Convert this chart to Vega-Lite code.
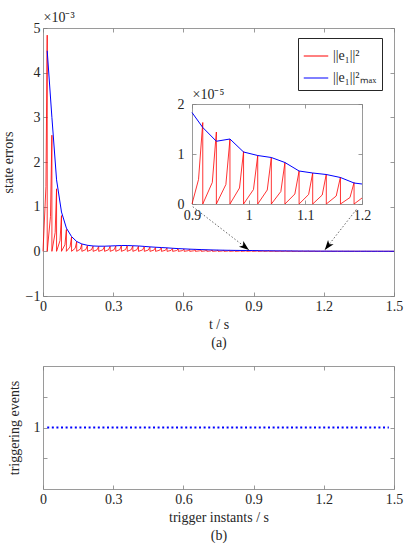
{
  "$schema": "https://vega.github.io/schema/vega-lite/v6.json",
  "padding": {"left": 1, "top": 10, "right": 5, "bottom": 2},
  "config": {
    "font": "Liberation Serif",
    "view": {"stroke": null},
    "axis": {
      "grid": false,
      "domainColor": "#808080",
      "domainWidth": 0.8,
      "tickColor": "#808080",
      "tickWidth": 0.8,
      "tickSize": -4,
      "labelFont": "Liberation Serif",
      "titleFont": "Liberation Serif",
      "labelColor": "#262626",
      "titleColor": "#262626",
      "labelFontSize": 14,
      "titleFontSize": 14,
      "titleFontWeight": "normal",
      "labelPadding": 7,
      "labelFlush": false,
      "labelOverlap": false
    },
    "legend": {"labelFont": "Liberation Serif"}
  },
  "datasets": {
    "red": [
      {"t":0,"v":0},{"t":0.0126,"v":1.452},{"t":0.018,"v":4.84},
      {"t":0.018,"v":0},{"t":0.032,"v":0.78},{"t":0.038,"v":2.6},
      {"t":0.038,"v":0},{"t":0.052,"v":0.42},{"t":0.058,"v":1.4},
      {"t":0.058,"v":0},{"t":0.0727,"v":0.24},{"t":0.079,"v":0.8},
      {"t":0.079,"v":0},{"t":0.0937,"v":0.147},{"t":0.1,"v":0.49},
      {"t":0.1,"v":0},{"t":0.1154,"v":0.096},{"t":0.122,"v":0.32},
      {"t":0.122,"v":0},{"t":0.1374,"v":0.066},{"t":0.144,"v":0.22},
      {"t":0.144,"v":0},{"t":0.1594,"v":0.048},{"t":0.166,"v":0.16},
      {"t":0.166,"v":0},{"t":0.1828,"v":0.039},{"t":0.19,"v":0.13},
      {"t":0.19,"v":0},{"t":0.2068,"v":0.0345},{"t":0.214,"v":0.115},
      {"t":0.214,"v":0},{"t":0.2308,"v":0.033},{"t":0.238,"v":0.11},
      {"t":0.238,"v":0},{"t":0.2555,"v":0.033},{"t":0.263,"v":0.11},
      {"t":0.263,"v":0},{"t":0.2798,"v":0.0345},{"t":0.287,"v":0.115},
      {"t":0.287,"v":0},{"t":0.3038,"v":0.036},{"t":0.311,"v":0.12},
      {"t":0.311,"v":0},{"t":0.3278,"v":0.0375},{"t":0.335,"v":0.125},
      {"t":0.335,"v":0},{"t":0.3525,"v":0.0375},{"t":0.36,"v":0.125},
      {"t":0.36,"v":0},{"t":0.3768,"v":0.036},{"t":0.384,"v":0.12},
      {"t":0.384,"v":0},{"t":0.4008,"v":0.0345},{"t":0.408,"v":0.115},
      {"t":0.408,"v":0},{"t":0.4255,"v":0.0315},{"t":0.433,"v":0.105},
      {"t":0.433,"v":0},{"t":0.4498,"v":0.0285},{"t":0.457,"v":0.095},
      {"t":0.457,"v":0},{"t":0.4738,"v":0.0264},{"t":0.481,"v":0.088},
      {"t":0.481,"v":0},{"t":0.4985,"v":0.0246},{"t":0.506,"v":0.082},
      {"t":0.506,"v":0},{"t":0.5228,"v":0.0225},{"t":0.53,"v":0.075},
      {"t":0.53,"v":0},{"t":0.5468,"v":0.0198},{"t":0.554,"v":0.066},
      {"t":0.554,"v":0},{"t":0.5708,"v":0.0174},{"t":0.578,"v":0.058},
      {"t":0.578,"v":0},{"t":0.5955,"v":0.0156},{"t":0.603,"v":0.052},
      {"t":0.603,"v":0},{"t":0.6198,"v":0.0141},{"t":0.627,"v":0.047},
      {"t":0.627,"v":0},{"t":0.6438,"v":0.0126},{"t":0.651,"v":0.042},
      {"t":0.651,"v":0},{"t":0.6685,"v":0.0111},{"t":0.676,"v":0.037},
      {"t":0.676,"v":0},{"t":0.6928,"v":0.0099},{"t":0.7,"v":0.033},
      {"t":0.7,"v":0},{"t":0.7168,"v":0.0087},{"t":0.724,"v":0.029},
      {"t":0.724,"v":0},{"t":0.7408,"v":0.0078},{"t":0.748,"v":0.026},
      {"t":0.748,"v":0},{"t":0.7655,"v":0.0072},{"t":0.773,"v":0.024},
      {"t":0.773,"v":0},{"t":0.7898,"v":0.0066},{"t":0.797,"v":0.022},
      {"t":0.797,"v":0},{"t":0.8138,"v":0.006},{"t":0.821,"v":0.02},
      {"t":0.821,"v":0},{"t":0.8385,"v":0.0057},{"t":0.846,"v":0.019},
      {"t":0.846,"v":0},{"t":0.8628,"v":0.0054},{"t":0.87,"v":0.018},
      {"t":0.87,"v":0},{"t":0.8868,"v":0.0051},{"t":0.894,"v":0.017},
      {"t":0.894,"v":0},{"t":0.9115,"v":0.0049},{"t":0.919,"v":0.0163},
      {"t":0.919,"v":0},{"t":0.9358,"v":0.0043},{"t":0.943,"v":0.0144},
      {"t":0.943,"v":0},{"t":0.9598,"v":0.0039},{"t":0.967,"v":0.013},
      {"t":0.967,"v":0},{"t":0.9838,"v":0.0032},{"t":0.991,"v":0.0105},
      {"t":0.991,"v":0},{"t":1.0085,"v":0.0029},{"t":1.016,"v":0.0097},
      {"t":1.016,"v":0},{"t":1.0328,"v":0.0028},{"t":1.04,"v":0.0093},
      {"t":1.04,"v":0},{"t":1.0568,"v":0.0025},{"t":1.064,"v":0.0083},
      {"t":1.064,"v":0},{"t":1.0815,"v":0.002},{"t":1.089,"v":0.0066},
      {"t":1.089,"v":0},{"t":1.1058,"v":0.0019},{"t":1.113,"v":0.0062},
      {"t":1.113,"v":0},{"t":1.1298,"v":0.0018},{"t":1.137,"v":0.006},
      {"t":1.137,"v":0},{"t":1.1545,"v":0.0016},{"t":1.162,"v":0.0054},
      {"t":1.162,"v":0},{"t":1.1788,"v":0.0013},{"t":1.186,"v":0.0043},
      {"t":1.186,"v":0},{"t":1.2028,"v":0.0012},{"t":1.21,"v":0.004},
      {"t":1.21,"v":0},{"t":1.2275,"v":0.0011},{"t":1.235,"v":0.0037},
      {"t":1.235,"v":0},{"t":1.2518,"v":0.00105},{"t":1.259,"v":0.0035},
      {"t":1.259,"v":0},{"t":1.2758,"v":0.001},{"t":1.283,"v":0.0033},
      {"t":1.283,"v":0},{"t":1.3005,"v":0.0009},{"t":1.308,"v":0.0031},
      {"t":1.308,"v":0},{"t":1.3248,"v":0.0009},{"t":1.332,"v":0.0029},
      {"t":1.332,"v":0},{"t":1.3488,"v":0.0008},{"t":1.356,"v":0.0027},
      {"t":1.356,"v":0},{"t":1.3735,"v":0.0008},{"t":1.381,"v":0.0026},
      {"t":1.381,"v":0},{"t":1.3978,"v":0.0007},{"t":1.405,"v":0.0024},
      {"t":1.405,"v":0},{"t":1.4218,"v":0.0007},{"t":1.429,"v":0.0023},
      {"t":1.429,"v":0},{"t":1.4465,"v":0.0006},{"t":1.454,"v":0.0021},
      {"t":1.454,"v":0},{"t":1.4708,"v":0.0006},{"t":1.478,"v":0.002},
      {"t":1.478,"v":0},{"t":1.495,"v":0.0006},{"t":1.5,"v":0.0009}
    ],
    "blue": [
      {"t":0.018,"v":4.49},{"t":0.038,"v":3.0},{"t":0.058,"v":1.6},{"t":0.079,"v":0.88},
      {"t":0.1,"v":0.52},{"t":0.122,"v":0.33},{"t":0.144,"v":0.22},{"t":0.166,"v":0.165},
      {"t":0.19,"v":0.135},{"t":0.214,"v":0.12},{"t":0.238,"v":0.115},{"t":0.263,"v":0.115},
      {"t":0.287,"v":0.12},{"t":0.311,"v":0.125},{"t":0.335,"v":0.13},{"t":0.36,"v":0.13},
      {"t":0.384,"v":0.125},{"t":0.408,"v":0.12},{"t":0.433,"v":0.11},{"t":0.457,"v":0.1},
      {"t":0.481,"v":0.092},{"t":0.506,"v":0.085},{"t":0.53,"v":0.078},{"t":0.554,"v":0.069},
      {"t":0.578,"v":0.061},{"t":0.603,"v":0.055},{"t":0.627,"v":0.049},{"t":0.651,"v":0.044},
      {"t":0.676,"v":0.039},{"t":0.7,"v":0.035},{"t":0.724,"v":0.031},{"t":0.748,"v":0.028},
      {"t":0.773,"v":0.025},{"t":0.797,"v":0.023},{"t":0.821,"v":0.021},{"t":0.846,"v":0.0198},
      {"t":0.87,"v":0.019},{"t":0.894,"v":0.0183},{"t":0.919,"v":0.0153},{"t":0.943,"v":0.01255},
      {"t":0.967,"v":0.013},{"t":0.991,"v":0.0104},{"t":1.016,"v":0.0097},{"t":1.04,"v":0.0093},
      {"t":1.064,"v":0.0083},{"t":1.089,"v":0.0066},{"t":1.113,"v":0.0062},{"t":1.137,"v":0.0059},
      {"t":1.162,"v":0.0053},{"t":1.186,"v":0.0042},{"t":1.21,"v":0.004},{"t":1.235,"v":0.0037},
      {"t":1.259,"v":0.0035},{"t":1.283,"v":0.0033},{"t":1.308,"v":0.0031},{"t":1.332,"v":0.0029},
      {"t":1.356,"v":0.0027},{"t":1.381,"v":0.0026},{"t":1.405,"v":0.0024},{"t":1.429,"v":0.0023},
      {"t":1.454,"v":0.0021},{"t":1.478,"v":0.002},{"t":1.5,"v":0.0019}
    ],
    "trig": [
      {"t":0.018,"e":1},{"t":0.038,"e":1},{"t":0.058,"e":1},{"t":0.079,"e":1},{"t":0.1,"e":1},
      {"t":0.122,"e":1},{"t":0.144,"e":1},{"t":0.166,"e":1},{"t":0.19,"e":1},{"t":0.214,"e":1},
      {"t":0.238,"e":1},{"t":0.263,"e":1},{"t":0.287,"e":1},{"t":0.311,"e":1},{"t":0.335,"e":1},
      {"t":0.36,"e":1},{"t":0.384,"e":1},{"t":0.408,"e":1},{"t":0.433,"e":1},{"t":0.457,"e":1},
      {"t":0.481,"e":1},{"t":0.506,"e":1},{"t":0.53,"e":1},{"t":0.554,"e":1},{"t":0.578,"e":1},
      {"t":0.603,"e":1},{"t":0.627,"e":1},{"t":0.651,"e":1},{"t":0.676,"e":1},{"t":0.7,"e":1},
      {"t":0.724,"e":1},{"t":0.748,"e":1},{"t":0.773,"e":1},{"t":0.797,"e":1},{"t":0.821,"e":1},
      {"t":0.846,"e":1},{"t":0.87,"e":1},{"t":0.894,"e":1},{"t":0.919,"e":1},{"t":0.943,"e":1},
      {"t":0.967,"e":1},{"t":0.991,"e":1},{"t":1.016,"e":1},{"t":1.04,"e":1},{"t":1.064,"e":1},
      {"t":1.089,"e":1},{"t":1.113,"e":1},{"t":1.137,"e":1},{"t":1.162,"e":1},{"t":1.186,"e":1},
      {"t":1.21,"e":1},{"t":1.235,"e":1},{"t":1.259,"e":1},{"t":1.283,"e":1},{"t":1.308,"e":1},
      {"t":1.332,"e":1},{"t":1.356,"e":1},{"t":1.381,"e":1},{"t":1.405,"e":1},{"t":1.429,"e":1},
      {"t":1.454,"e":1},{"t":1.478,"e":1}
    ],
    "arrows": [
      {"id":"a","t":0.64,"v":1.0,"t2":0.88,"v2":0.03},
      {"id":"b","t":1.339,"v":0.935,"t2":1.204,"v2":0.03}
    ]
  },
  "bounds": "flush",
  "spacing": 70,
  "vconcat": [
    {
      "width": 351,
      "height": 268,
      "resolve": {"scale": {"x": "independent", "y": "independent"}},
      "layer": [
        {
          "data": {"name": "red"},
          "mark": {"type": "line", "strokeWidth": 0.8},
          "encoding": {
            "x": {"field": "t", "type": "quantitative",
              "scale": {"domain": [0, 1.5], "nice": false},
              "axis": {"orient": "bottom", "values": [0, 0.3, 0.6, 0.9, 1.2, 1.5], "format": ".1~f",
                "title": ["t / s", "(a)"], "titleLineHeight": 18, "titlePadding": 4}},
            "y": {"field": "v", "type": "quantitative",
              "scale": {"domain": [-1, 5], "nice": false, "zero": false},
              "axis": {"orient": "left", "values": [-1, 0, 1, 2, 3, 4, 5], "format": "d",
                "title": "state errors", "titlePadding": 10}},
            "color": {"datum": "||e₁||²", "type": "nominal",
              "scale": {"domain": ["||e₁||²", "||e₁||²ₘₐₓ"], "range": ["#ff0000", "#0000ff"]},
              "legend": {"orient": "none", "legendX": 255, "legendY": 10, "title": null,
                "fillColor": "white", "strokeColor": "#262626", "padding": 5,
                "symbolType": "stroke", "symbolSize": 600, "symbolStrokeWidth": 1,
                "labelFontSize": 14, "labelColor": "#262626", "rowPadding": 2, "labelOffset": 4,
                "encode": {"symbols": {"update": {"stroke": {"scale": "color", "field": "value"}}}}}},
            "order": {"value": null}
          }
        },
        {
          "data": {"name": "blue"},
          "mark": {"type": "line", "strokeWidth": 1},
          "encoding": {
            "x": {"field": "t", "type": "quantitative",
              "scale": {"domain": [0, 1.5], "nice": false},
              "axis": {"orient": "top", "values": [0, 0.3, 0.6, 0.9, 1.2, 1.5], "labels": false,
                "title": "×10⁻³", "titleAnchor": "start", "titleAlign": "left", "titlePadding": 3}},
            "y": {"field": "v", "type": "quantitative",
              "scale": {"domain": [-1, 5], "nice": false, "zero": false},
              "axis": {"orient": "right", "values": [-1, 0, 1, 2, 3, 4, 5], "labels": false, "title": null}},
            "color": {"datum": "||e₁||²ₘₐₓ", "type": "nominal"}
          }
        },
        {
          "data": {"name": "arrows"},
          "mark": {"type": "rule", "color": "#555555", "strokeWidth": 0.9, "strokeDash": [1.5, 2]},
          "encoding": {
            "x": {"field": "t", "type": "quantitative", "scale": {"domain": [0, 1.5], "nice": false}, "axis": null},
            "y": {"field": "v", "type": "quantitative", "scale": {"domain": [-1, 5], "nice": false, "zero": false}, "axis": null},
            "x2": {"field": "t2"},
            "y2": {"field": "v2"}
          }
        },
        {
          "data": {"name": "arrows"},
          "mark": {"type": "point", "shape": "M0,0L0.5,1.4L0,1.05L-0.5,1.4Z", "filled": true, "color": "#000000", "size": 200, "opacity": 1},
          "encoding": {
            "x": {"field": "t2", "type": "quantitative", "scale": {"domain": [0, 1.5], "nice": false}, "axis": null},
            "y": {"field": "v2", "type": "quantitative", "scale": {"domain": [-1, 5], "nice": false, "zero": false}, "axis": null},
            "angle": {"condition": {"test": "datum.id === 'a'", "value": 128}, "value": 218}
          }
        },
        {
          "data": {"name": "red"},
          "transform": [{"filter": "(datum.t > 0.894 && datum.t <= 1.203) || (datum.t == 0.894 && datum.v == 0)"}],
          "mark": {"type": "line", "strokeWidth": 0.8, "color": "#ff0000"},
          "encoding": {
            "x": {"field": "t", "type": "quantitative",
              "scale": {"domain": [0.9, 1.2], "range": [149, 319], "clamp": true, "nice": false, "zero": false},
              "axis": {"orient": "bottom", "offset": -92, "values": [0.9, 1, 1.1, 1.2], "format": ".1~f", "title": null, "labelPadding": 8}},
            "y": {"field": "v", "type": "quantitative",
              "scale": {"domain": [0, 0.02], "range": [176, 76], "nice": false},
              "axis": {"orient": "left", "offset": -149, "values": [0, 0.01, 0.02],
                "labelExpr": "format(datum.value * 100, '.0f')", "title": null, "labelPadding": 12}},
            "order": {"value": null}
          }
        },
        {
          "data": {"name": "blue"},
          "transform": [{"filter": "datum.t >= 0.894 && datum.t <= 1.21"}],
          "mark": {"type": "line", "strokeWidth": 1, "color": "#0000ff"},
          "encoding": {
            "x": {"field": "t", "type": "quantitative",
              "scale": {"domain": [0.9, 1.2], "range": [149, 319], "clamp": true, "nice": false, "zero": false},
              "axis": {"orient": "top", "offset": -76, "values": [0.9, 1, 1.1, 1.2], "labels": false,
                "title": "×10⁻⁵", "titleAnchor": "start", "titleAlign": "left", "titlePadding": 2}},
            "y": {"field": "v", "type": "quantitative",
              "scale": {"domain": [0, 0.02], "range": [176, 76], "nice": false},
              "axis": {"orient": "right", "offset": -32, "values": [0, 0.01, 0.02], "labels": false, "title": null}}
          }
        }
      ]
    },
    {
      "width": 351,
      "height": 123,
      "data": {"name": "trig"},
      "resolve": {"axis": {"x": "independent", "y": "independent"}},
      "layer": [
        {
          "mark": {"type": "line", "color": "#0000ff", "strokeWidth": 2.2, "strokeDash": [2, 2.6]},
          "encoding": {
            "x": {"field": "t", "type": "quantitative",
              "scale": {"domain": [0, 1.5], "nice": false},
              "axis": {"orient": "bottom", "values": [0, 0.3, 0.6, 0.9, 1.2, 1.5], "format": ".1~f",
                "title": ["trigger instants / s", "(b)"], "titleLineHeight": 18, "titlePadding": 4}},
            "y": {"field": "e", "type": "quantitative",
              "scale": {"domain": [0, 2], "nice": false},
              "axis": {"orient": "left", "values": [0.5, 1, 1.5],
                "labelExpr": "datum.value == 1 ? '1' : ''", "title": "triggering events", "titlePadding": 12}}
          }
        },
        {
          "mark": {"type": "line", "opacity": 0},
          "encoding": {
            "x": {"field": "t", "type": "quantitative",
              "axis": {"orient": "top", "values": [0, 0.3, 0.6, 0.9, 1.2, 1.5], "labels": false, "title": null}},
            "y": {"field": "e", "type": "quantitative",
              "axis": {"orient": "right", "values": [0.5, 1, 1.5], "labels": false, "title": null}}
          }
        }
      ]
    }
  ]
}
